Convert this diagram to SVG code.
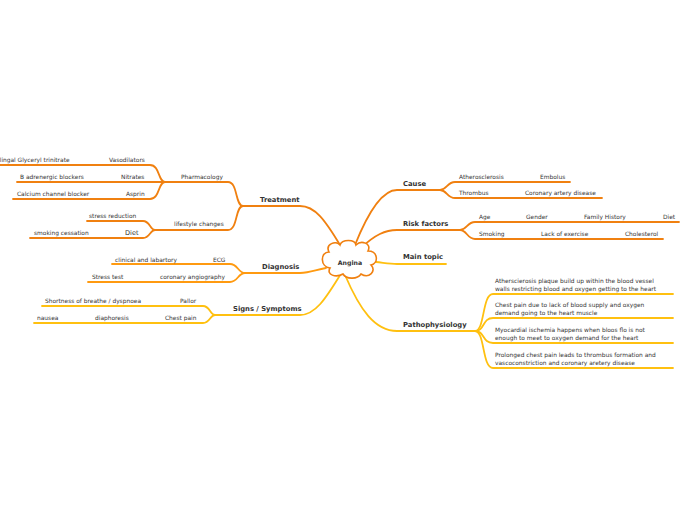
<svg xmlns="http://www.w3.org/2000/svg" width="697" height="520" viewBox="0 0 697 520">
<style>
text{font-family:"DejaVu Sans",Verdana,sans-serif;fill:#333}
.s{font-size:5.9px}
.m{font-size:6.8px;font-weight:bold}
.c path{fill:none;stroke-width:1.8;stroke-linecap:round}
.o{stroke:#f08010}.p{stroke:#ff9a10}.y{stroke:#ffc010}
</style>
<rect width="697" height="520" fill="#fff"/>
<g class="c">
<path class="o" d="M340,245 C325,220 315,206 300,206 H243"/>
<path class="o" d="M243,206 C235,206 238,182 228,182 H165"/>
<path class="o" d="M165,182 C158,182 160,165 150,165 H0"/>
<path class="o" d="M165,182 H17"/>
<path class="o" d="M165,182 C158,182 160,199 150,199 H13"/>
<path class="o" d="M243,206 C235,206 238,230 228,230 H155"/>
<path class="o" d="M155,230 C150,230 150,221 143,221 H87"/>
<path class="o" d="M155,230 C150,230 150,238 143,238 H30"/>
<path class="p" d="M326,268 C315,270 310,273 300,273 H245"/>
<path class="p" d="M245,273 C238,273 238,264 230,264 H112"/>
<path class="p" d="M245,273 C238,273 238,282 230,282 H88"/>
<path class="y" d="M342,272 C325,300 315,315 300,315 H215"/>
<path class="y" d="M215,315 C210,315 210,306 203,306 H42"/>
<path class="y" d="M215,315 C210,315 210,323 203,323 H34"/>
<path class="o" d="M355,245 C365,220 380,190 397,190 H440"/>
<path class="o" d="M440,190 C447,190 447,182 455,182 H570"/>
<path class="o" d="M440,190 C447,190 447,198 455,198 H602"/>
<path class="o" d="M362,247 C375,235 385,230 397,230 H460"/>
<path class="o" d="M460,230 C467,230 467,222 475,222 H679"/>
<path class="o" d="M460,230 C467,230 467,239 475,239 H663"/>
<path class="y" d="M376,262 C385,263 390,264 397,264 H446"/>
<path class="y" d="M345,275 C360,310 375,331 397,331 H475"/>
<path class="y" d="M475,331 C485,331 482,294 493,294 H673"/>
<path class="y" d="M475,331 C485,331 482,318 493,318 H673"/>
<path class="y" d="M475,331 C485,331 482,343 493,343 H673"/>
<path class="y" d="M475,331 C485,331 482,368 493,368 H673"/>
</g>
<g id="angina">
<path d="M329,252 C325,244 336,240 340,245 C342,239 355,239 356,245 C361,240 372,243 368,251 C378,251 379,263 371,265 C377,271 369,279 361,274 C357,280 346,279 343,274 C336,278 326,275 330,268 C320,267 320,252 329,252 Z" fill="#fff" stroke="#f08010" stroke-width="1.6"/>
<text class="m" x="350" y="265" text-anchor="middle" style="font-size:6.2px">Angina</text>
</g>
<g id="treatment"><text class="m" x="260" y="202">Treatment</text></g>
<g id="pharm"><text class="s" x="181" y="179">Pharmacology</text></g>
<g id="vaso"><text class="s" x="109" y="162">Vasodilators</text><text class="s" x="-4" y="162">blingal Glyceryl trinitrate</text></g>
<g id="nitr"><text class="s" x="121" y="179">Nitrates</text><text class="s" x="20" y="179">B adrenergic blockers</text></g>
<g id="asp"><text class="s" x="126" y="196">Asprin</text><text class="s" x="17" y="196">Calcium channel blocker</text></g>
<g id="life"><text class="s" x="174" y="226">lifestyle changes</text></g>
<g id="stress"><text class="s" x="89" y="218">stress reduction</text></g>
<g id="diet"><text class="s" x="125" y="235" style="font-size:6.6px">Diet</text><text class="s" x="34" y="235">smoking cessation</text></g>
<g id="diag"><text class="m" x="262" y="269">Diagnosis</text></g>
<g id="ecg"><text class="s" x="213" y="262">ECG</text><text class="s" x="115" y="262">clinical and labartory</text></g>
<g id="cor"><text class="s" x="160" y="279">coronary angiography</text><text class="s" x="92" y="279">Stress test</text></g>
<g id="signs"><text class="m" x="233" y="311">Signs / Symptoms</text></g>
<g id="pallor"><text class="s" x="180" y="303">Pallor</text><text class="s" x="45" y="303">Shortness of breathe / dyspnoea</text></g>
<g id="chest"><text class="s" x="165" y="320">Chest pain</text><text class="s" x="95" y="320">diaphoresis</text><text class="s" x="37" y="320">nausea</text></g>
<g id="cause"><text class="m" x="403" y="186">Cause</text></g>
<g id="ath"><text class="s" x="459" y="179">Atherosclerosis</text><text class="s" x="540" y="179">Embolus</text></g>
<g id="thr"><text class="s" x="459" y="195">Thrombus</text><text class="s" x="525" y="195">Coronary artery disease</text></g>
<g id="risk"><text class="m" x="403" y="226">Risk factors</text></g>
<g id="r1"><text class="s" x="479" y="219">Age</text><text class="s" x="526" y="219">Gender</text><text class="s" x="584" y="219">Family History</text><text class="s" x="663" y="219">Diet</text></g>
<g id="r2"><text class="s" x="479" y="236">Smoking</text><text class="s" x="541" y="236">Lack of exercise</text><text class="s" x="625" y="236">Cholesterol</text></g>
<g id="main"><text class="m" x="403" y="259">Main topic</text></g>
<g id="patho"><text class="m" x="403" y="327">Pathophysiology</text></g>
<g id="p1"><text class="s" x="495" y="283">Atherscierosis plaque build up within the blood vessel</text><text class="s" x="495" y="291">walls restricting blood and oxygen getting to the heart</text></g>
<g id="p2"><text class="s" x="495" y="307">Chest pain due to lack of blood supply and oxygen</text><text class="s" x="495" y="315">demand going to the heart muscle</text></g>
<g id="p3"><text class="s" x="495" y="332">Myocardial ischemia happens when bloos flo is not</text><text class="s" x="495" y="340">enough to meet to oxygen demand for the heart</text></g>
<g id="p4"><text class="s" x="495" y="357">Prolonged chest pain leads to thrombus formation and</text><text class="s" x="495" y="365">vascoconstriction and coronary aretery disease</text></g>
</svg>
